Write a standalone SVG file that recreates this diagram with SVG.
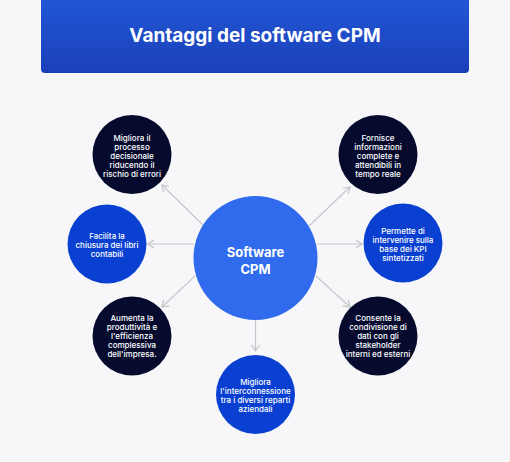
<svg xmlns="http://www.w3.org/2000/svg" width="510" height="462" viewBox="0 0 510 462">
<defs>
<linearGradient id="hg" x1="0" y1="0" x2="0" y2="1">
<stop offset="0" stop-color="#2358d8"/>
<stop offset="1" stop-color="#1a40b8"/>
</linearGradient>
<marker id="arr" markerWidth="10" markerHeight="10" refX="7" refY="5" orient="auto" markerUnits="userSpaceOnUse">
<path d="M1,1 L7,5 L1,9" fill="none" stroke="#c4c4c8" stroke-width="1.2"/>
</marker>
<style>
.bg{fill:#f7f7fa}
.dark{fill:#060b2e}
.blue{fill:#0a40d2}
.center{fill:#2f6bec}
.t{font-family:Inter,"Noto Sans","Liberation Sans",sans-serif;font-size:8px;font-weight:500;fill:#ffffff;text-anchor:middle}
.c{font-family:Inter,"Noto Sans","Liberation Sans",sans-serif;font-size:13px;font-weight:700;fill:#ffffff;text-anchor:middle}
.title{font-family:Inter,"Noto Sans","Liberation Sans",sans-serif;font-size:19px;font-weight:700;fill:#ffffff;text-anchor:middle}
.ln{stroke:#c8c8cc;stroke-width:1.2;fill:none;marker-end:url(#arr)}
</style>
</defs>
<rect class="bg" x="0" y="0" width="510" height="462"/>
<g id="header">
<rect x="41" y="-6" width="428" height="79" rx="4" fill="url(#hg)"/>
<text class="title" x="255" y="41.5">Vantaggi del software CPM</text>
</g>
<g id="connectors">
<line class="ln" x1="203" y1="225" x2="162" y2="185"/>
<line class="ln" x1="194" y1="244" x2="148" y2="244"/>
<line class="ln" x1="195" y1="276" x2="162" y2="307"/>
<line class="ln" x1="309" y1="226" x2="350" y2="187"/>
<line class="ln" x1="316" y1="244" x2="362" y2="244"/>
<line class="ln" x1="316" y1="276" x2="350" y2="307"/>
<line class="ln" x1="255.5" y1="320" x2="255.5" y2="351"/>
</g>
<g id="center">
<circle class="center" cx="255.5" cy="258" r="62"/>
<text class="c" x="255.5" y="257">Software</text>
<text class="c" x="255.5" y="274">CPM</text>
</g>
<g id="n1">
<circle class="dark" cx="132" cy="154.5" r="39.5"/>
<text class="t" x="132" y="141">Migliora il</text>
<text class="t" x="132" y="150">processo</text>
<text class="t" x="132" y="159">decisionale</text>
<text class="t" x="132" y="168">riducendo il</text>
<text class="t" x="132" y="177">rischio di errori</text>
</g>
<g id="n2">
<circle class="blue" cx="107" cy="244" r="39.5"/>
<text class="t" x="107" y="239">Facilita la</text>
<text class="t" x="107" y="248">chiusura dei libri</text>
<text class="t" x="107" y="257">contabili</text>
</g>
<g id="n3">
<circle class="dark" cx="132" cy="336" r="39.5"/>
<text class="t" x="132" y="321">Aumenta la</text>
<text class="t" x="132" y="330">produttività e</text>
<text class="t" x="132" y="339">l'efficienza</text>
<text class="t" x="132" y="348">complessiva</text>
<text class="t" x="132" y="357">dell'impresa.</text>
</g>
<g id="n4">
<circle class="dark" cx="378" cy="154.5" r="39.5"/>
<text class="t" x="378" y="141">Fornisce</text>
<text class="t" x="378" y="150">informazioni</text>
<text class="t" x="378" y="159">complete e</text>
<text class="t" x="378" y="168">attendibili in</text>
<text class="t" x="378" y="177">tempo reale</text>
</g>
<g id="n5">
<circle class="blue" cx="403" cy="243" r="39.5"/>
<text class="t" x="403" y="233.5">Permette di</text>
<text class="t" x="403" y="242.5">intervenire sulla</text>
<text class="t" x="403" y="251.5">base dei KPI</text>
<text class="t" x="403" y="260.5">sintetizzati</text>
</g>
<g id="n6">
<circle class="dark" cx="378" cy="336" r="39.5"/>
<text class="t" x="378" y="321">Consente la</text>
<text class="t" x="378" y="330">condivisione di</text>
<text class="t" x="378" y="339">dati con gli</text>
<text class="t" x="378" y="348">stakeholder</text>
<text class="t" x="378" y="357">interni ed esterni</text>
</g>
<g id="n7">
<circle class="blue" cx="255.5" cy="394.5" r="39.5"/>
<text class="t" x="255.5" y="385">Migliora</text>
<text class="t" x="255.5" y="394">l'interconnessione</text>
<text class="t" x="255.5" y="403">tra i diversi reparti</text>
<text class="t" x="255.5" y="412">aziendali</text>
</g>
</svg>
